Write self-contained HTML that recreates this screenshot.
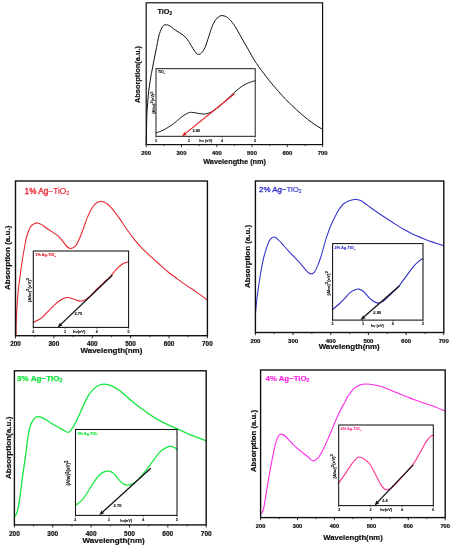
<!DOCTYPE html>
<html lang="en">
<head>
<meta charset="utf-8">
<title>UV-vis absorption spectra of TiO2 and Ag-TiO2</title>
<style>
html,body{margin:0;padding:0;background:#fff;}
body{width:453px;height:550px;overflow:hidden;}
svg{display:block;}
svg text{font-family:"Liberation Sans",Arial,Helvetica,sans-serif;}
</style>
</head>
<body>
<svg width="453" height="550" viewBox="0 0 453 550">
<rect x="0" y="0" width="453" height="550" fill="#ffffff"/>
<path d="M146.3 144.0C146.4 140.8 146.5 130.7 146.6 125.0C146.7 119.3 146.8 115.0 147.1 110.0C147.4 105.0 147.8 100.0 148.3 95.0C148.8 90.0 149.7 84.2 150.3 80.0C150.9 75.8 151.5 73.3 152.1 70.0C152.7 66.7 153.3 63.3 154.0 60.0C154.7 56.7 155.3 53.3 156.0 50.0C156.7 46.7 157.4 42.8 158.0 40.0C158.6 37.2 158.8 35.7 159.6 33.4C160.4 31.1 161.7 27.8 162.6 26.4C163.5 25.0 164.2 25.0 165.0 24.8C165.8 24.6 166.7 24.8 167.5 25.0C168.3 25.2 169.0 25.4 170.0 26.0C171.0 26.6 172.4 27.9 173.6 28.8C174.8 29.7 175.8 30.4 177.0 31.2C178.2 32.0 179.5 32.6 180.9 33.6C182.3 34.6 184.3 35.9 185.7 37.4C187.1 38.9 188.2 40.6 189.4 42.5C190.6 44.4 191.9 46.9 193.0 48.6C194.1 50.3 195.0 51.9 195.9 52.9C196.8 53.9 197.7 54.4 198.6 54.4C199.5 54.4 200.4 54.1 201.5 52.9C202.6 51.7 203.9 50.1 205.1 47.4C206.3 44.6 207.6 40.0 208.8 36.4C210.0 32.8 211.2 28.7 212.4 25.8C213.6 22.9 214.9 20.8 216.1 19.2C217.3 17.6 218.7 16.8 219.7 16.2C220.7 15.6 221.1 15.5 222.1 15.6C223.1 15.7 224.5 15.8 225.8 16.5C227.1 17.2 228.4 18.1 229.9 19.7C231.4 21.2 233.1 23.4 234.7 25.8C236.3 28.2 238.0 31.5 239.6 34.3C241.2 37.1 242.8 40.0 244.4 42.8C246.0 45.6 247.7 48.5 249.3 51.3C250.9 54.1 252.5 57.2 254.1 59.8C255.7 62.4 257.4 64.8 259.0 67.1C260.6 69.4 262.3 71.5 263.9 73.6C265.5 75.7 267.1 77.9 268.7 79.9C270.3 81.9 272.0 83.9 273.6 85.8C275.2 87.7 276.4 89.0 278.4 91.3C280.4 93.6 283.3 96.9 285.7 99.4C288.1 101.9 290.6 104.1 293.0 106.4C295.4 108.7 297.9 111.1 300.3 113.2C302.7 115.3 305.2 117.4 307.6 119.3C310.0 121.2 312.4 122.9 314.8 124.6C317.2 126.2 321.1 128.4 322.3 129.2" fill="none" stroke="#111" stroke-width="1.00" stroke-linejoin="round" stroke-linecap="round"/>
<path d="M156.1 132.9C157.4 132.4 161.0 131.3 163.9 129.8C166.8 128.3 170.8 125.7 173.6 123.7C176.4 121.7 178.7 119.3 180.9 117.6C183.1 115.9 185.1 114.4 186.9 113.5C188.7 112.6 190.0 112.3 191.8 112.3C193.6 112.3 195.9 113.0 197.9 113.3C199.9 113.6 201.9 114.1 203.9 114.0C205.9 113.9 207.8 113.6 210.0 112.6C212.2 111.6 214.5 110.1 217.3 107.9C220.1 105.7 224.1 102.1 227.0 99.4C229.9 96.7 232.4 94.1 235.0 91.9C237.6 89.7 239.9 87.6 242.3 86.0C244.7 84.4 247.4 83.3 249.6 82.4C251.8 81.5 254.3 81.0 255.2 80.7" fill="none" stroke="#111" stroke-width="0.95" stroke-linejoin="round" stroke-linecap="round"/>
<path d="M16.0 335.0C16.1 331.8 16.1 323.0 16.5 315.7C16.9 308.4 17.5 298.7 18.2 291.4C18.9 284.1 19.8 277.9 20.6 272.0C21.4 266.1 22.3 260.2 23.0 256.0C23.7 251.8 24.0 250.2 24.6 247.0C25.2 243.8 25.7 239.8 26.7 236.5C27.7 233.2 29.2 229.2 30.4 227.1C31.6 225.0 32.9 224.6 34.0 223.9C35.1 223.2 35.7 222.8 36.9 222.9C38.1 223.0 39.8 223.6 41.3 224.4C42.8 225.2 44.3 226.6 46.1 227.8C47.9 229.1 50.2 230.5 52.2 231.9C54.2 233.3 56.5 234.5 58.3 236.1C60.1 237.7 61.7 239.9 63.1 241.6C64.5 243.3 65.6 245.4 66.8 246.5C68.0 247.6 69.2 248.3 70.4 248.4C71.6 248.5 72.9 248.2 74.1 247.2C75.3 246.2 76.3 245.2 77.7 242.4C79.1 239.7 81.0 234.9 82.6 230.7C84.2 226.5 85.8 221.2 87.4 217.4C89.0 213.6 90.9 209.9 92.3 207.6C93.7 205.2 94.7 204.3 95.9 203.3C97.1 202.3 98.4 201.7 99.6 201.4C100.8 201.2 101.8 201.3 103.2 201.8C104.6 202.3 106.5 203.3 108.0 204.5C109.5 205.7 110.4 206.6 112.3 208.9C114.2 211.2 117.2 215.2 119.6 218.6C122.0 222.0 124.5 226.1 126.9 229.5C129.3 232.9 131.7 236.2 134.1 239.2C136.5 242.2 139.0 245.1 141.4 247.7C143.8 250.3 145.9 252.0 148.7 254.6C151.5 257.2 155.2 260.6 158.4 263.5C161.6 266.4 164.8 269.4 168.1 272.0C171.3 274.6 174.7 276.9 177.9 279.3C181.2 281.7 184.4 283.9 187.6 286.1C190.8 288.3 194.1 290.3 197.3 292.6C200.5 294.9 205.4 298.7 207.0 299.9" fill="none" stroke="#e8202a" stroke-width="1.05" stroke-linejoin="round" stroke-linecap="round"/>
<path d="M33.3 322.5C34.6 321.8 38.8 320.0 41.3 318.1C43.8 316.2 46.2 313.3 48.6 310.9C51.0 308.5 53.7 305.6 55.9 303.6C58.1 301.7 60.1 300.2 61.9 299.2C63.7 298.2 65.0 297.6 66.8 297.5C68.6 297.4 70.9 298.1 72.9 298.7C74.9 299.3 77.1 300.6 78.9 300.9C80.7 301.2 82.0 301.3 83.8 300.5C85.6 299.7 87.7 298.2 89.9 296.3C92.1 294.4 94.8 291.3 97.1 289.0C99.4 286.7 101.8 284.3 104.0 282.3C106.2 280.3 108.2 278.8 110.0 276.9C111.8 275.0 113.4 272.8 115.0 271.0C116.6 269.2 118.2 267.3 119.8 266.0C121.4 264.7 123.0 263.7 124.5 263.0C126.0 262.3 127.9 261.8 128.6 261.6" fill="none" stroke="#e8202a" stroke-width="1.10" stroke-linejoin="round" stroke-linecap="round"/>
<path d="M255.3 316.0C255.6 313.1 256.2 304.4 256.9 298.7C257.6 293.0 258.5 287.0 259.3 281.7C260.1 276.4 260.9 271.3 261.7 267.1C262.5 262.9 263.2 259.7 264.0 256.5C264.8 253.3 265.8 250.2 266.6 247.7C267.4 245.2 268.2 243.2 269.0 241.6C269.8 240.0 270.6 239.0 271.4 238.2C272.2 237.4 273.1 237.1 273.9 237.0C274.7 236.9 275.2 237.2 276.0 237.7C276.8 238.2 277.4 238.9 278.5 240.0C279.6 241.1 280.8 242.3 282.4 244.1C284.0 245.9 286.5 248.9 288.4 250.9C290.2 252.9 291.7 254.3 293.5 256.2C295.3 258.1 297.4 260.1 299.4 262.3C301.4 264.5 303.9 267.9 305.4 269.6C306.9 271.3 307.4 271.9 308.4 272.6C309.4 273.3 310.2 273.9 311.2 273.9C312.2 273.8 313.1 273.6 314.2 272.3C315.3 271.0 316.5 268.5 317.6 265.9C318.7 263.3 319.8 260.4 321.0 256.5C322.2 252.7 323.4 247.5 324.8 242.8C326.2 238.1 328.1 232.5 329.7 228.3C331.3 224.1 333.0 220.6 334.6 217.4C336.2 214.2 337.9 211.1 339.4 208.9C340.9 206.7 342.1 205.3 343.5 204.0C344.9 202.7 346.4 202.0 347.9 201.3C349.4 200.6 351.3 200.1 352.7 199.8C354.1 199.5 355.0 199.2 356.4 199.4C357.8 199.6 359.4 199.8 361.2 200.8C363.0 201.8 364.3 203.0 367.3 205.2C370.3 207.3 375.3 210.9 379.4 213.7C383.4 216.4 387.6 219.1 391.6 221.7C395.7 224.3 399.6 227.0 403.7 229.3C407.8 231.6 411.8 233.8 415.9 235.6C419.9 237.4 423.4 238.7 428.0 240.4C432.6 242.1 441.2 244.9 443.8 245.8" fill="none" stroke="#3232cc" stroke-width="1.05" stroke-linejoin="round" stroke-linecap="round"/>
<path d="M332.6 309.6C333.7 308.6 337.3 305.7 339.4 303.8C341.5 301.9 343.4 299.9 345.0 298.2C346.6 296.5 347.4 294.8 349.1 293.4C350.8 292.0 353.5 290.5 355.1 289.8C356.7 289.1 357.4 288.8 358.8 289.1C360.2 289.4 362.0 290.2 363.6 291.5C365.2 292.8 366.9 295.5 368.5 297.1C370.1 298.7 371.8 300.2 373.4 301.2C375.0 302.2 376.6 303.1 378.2 303.1C379.8 303.1 380.9 303.0 383.1 301.4C385.3 299.8 389.0 295.9 391.6 293.4C394.2 290.8 396.5 288.9 398.9 286.1C401.3 283.3 403.7 279.6 406.1 276.4C408.5 273.2 411.2 269.3 413.4 266.7C415.6 264.1 417.9 261.9 419.5 260.6C421.1 259.3 422.4 259.0 423.0 258.7" fill="none" stroke="#3232cc" stroke-width="1.15" stroke-linejoin="round" stroke-linecap="round"/>
<path d="M14.8 516.2C15.2 515.6 16.2 515.0 17.0 512.5C17.8 509.9 18.6 506.1 19.4 500.9C20.2 495.7 21.1 487.5 21.9 481.4C22.7 475.3 23.5 470.0 24.3 464.4C25.1 458.8 26.0 452.5 26.6 448.0C27.2 443.5 27.3 441.2 27.9 437.5C28.5 433.8 29.4 428.7 30.4 425.6C31.4 422.5 32.8 420.3 34.0 418.8C35.2 417.3 36.2 416.8 37.6 416.6C39.0 416.4 40.7 417.0 42.5 417.8C44.3 418.6 46.4 420.1 48.6 421.5C50.8 422.9 53.5 424.6 55.9 426.0C58.3 427.4 61.1 428.8 63.1 429.9C65.1 431.0 66.6 432.5 68.0 432.4C69.4 432.3 70.2 431.1 71.6 429.2C73.0 427.2 74.7 424.3 76.5 420.7C78.3 417.1 80.6 411.6 82.6 407.4C84.6 403.1 86.6 398.4 88.6 395.2C90.6 391.9 92.9 389.6 94.7 387.9C96.5 386.2 98.0 385.6 99.6 385.0C101.2 384.4 102.9 384.2 104.4 384.2C105.9 384.2 107.2 384.5 108.5 384.8C109.8 385.1 110.5 385.3 112.3 386.2C114.1 387.1 116.8 388.3 119.6 390.4C122.4 392.5 125.7 395.9 129.3 398.9C132.9 401.9 137.4 405.6 141.4 408.6C145.4 411.6 149.6 414.6 153.6 417.1C157.6 419.6 161.6 421.6 165.7 423.6C169.8 425.6 173.8 427.4 177.9 429.2C182.0 431.0 185.3 432.7 190.0 434.6C194.7 436.5 203.2 439.6 205.8 440.6" fill="none" stroke="#14e63c" stroke-width="1.30" stroke-linejoin="round" stroke-linecap="round"/>
<path d="M75.5 505.3C76.6 504.4 80.0 502.5 82.3 499.8C84.6 497.1 87.2 492.7 89.6 489.0C92.0 485.3 94.7 480.6 96.9 477.8C99.1 475.0 100.9 473.5 102.9 472.4C104.9 471.3 107.2 470.9 109.0 471.1C110.8 471.3 112.3 472.2 113.9 473.6C115.5 475.0 117.1 477.9 118.7 479.6C120.3 481.3 122.2 483.1 123.6 484.0C125.0 484.9 125.8 485.2 127.2 485.2C128.6 485.2 130.3 484.9 132.1 484.0C133.9 483.1 135.9 481.8 138.1 479.6C140.3 477.5 143.0 474.1 145.4 471.1C147.8 468.1 150.3 464.6 152.7 461.4C155.1 458.2 157.8 454.2 160.0 451.9C162.2 449.6 164.3 448.5 166.1 447.6C167.9 446.7 169.5 446.4 170.9 446.4C172.3 446.4 173.6 447.1 174.6 447.6C175.6 448.1 176.6 449.0 177.0 449.3" fill="none" stroke="#14e63c" stroke-width="1.25" stroke-linejoin="round" stroke-linecap="round"/>
<path d="M261.2 513.7C261.6 513.0 262.7 511.9 263.4 509.4C264.1 506.8 264.5 503.9 265.4 498.4C266.3 492.9 267.8 483.5 269.0 476.6C270.2 469.7 271.7 462.0 272.6 457.1C273.5 452.2 274.0 450.1 274.6 447.5C275.2 444.9 275.6 443.3 276.3 441.4C277.0 439.4 277.9 437.0 278.7 435.8C279.5 434.6 280.1 434.1 281.1 434.1C282.1 434.1 283.4 434.7 284.8 435.8C286.2 436.9 288.0 439.1 289.6 440.8C291.2 442.5 292.7 444.1 294.5 445.8C296.3 447.5 298.4 449.3 300.6 451.1C302.8 452.9 305.9 455.1 307.9 456.7C309.9 458.3 311.1 460.5 312.7 460.8C314.3 461.1 316.0 460.0 317.6 458.4C319.2 456.8 320.6 454.4 322.4 451.0C324.2 447.6 326.5 442.3 328.5 437.7C330.5 433.1 332.6 427.8 334.6 423.1C336.6 418.5 338.9 413.3 340.6 409.8C342.3 406.3 343.8 404.2 345.0 402.0C346.2 399.8 346.4 398.6 347.9 396.4C349.4 394.2 351.9 390.6 353.9 388.7C355.9 386.8 358.0 385.8 360.0 385.0C362.0 384.2 363.7 384.0 366.1 384.0C368.5 384.0 371.6 384.4 374.6 385.0C377.6 385.6 380.7 386.1 384.3 387.4C387.9 388.7 392.3 390.9 396.4 392.6C400.4 394.3 404.6 396.0 408.6 397.6C412.7 399.2 416.7 400.6 420.7 402.0C424.7 403.4 428.8 404.4 432.8 405.9C436.9 407.4 443.0 410.1 445.0 411.0" fill="none" stroke="#ff28e6" stroke-width="1.10" stroke-linejoin="round" stroke-linecap="round"/>
<path d="M338.7 483.0C339.7 481.6 342.5 477.8 344.7 474.6C346.9 471.4 350.0 466.4 352.0 463.7C354.0 460.9 355.7 459.2 356.9 458.1C358.1 457.0 358.1 457.1 359.3 457.2C360.5 457.3 362.3 457.7 364.1 458.9C365.9 460.1 368.2 461.7 370.2 464.5C372.2 467.3 374.5 472.5 376.3 475.9C378.1 479.3 379.7 482.9 381.1 485.1C382.5 487.3 383.8 488.4 384.8 489.2C385.8 490.0 386.0 490.0 387.2 489.7C388.4 489.4 389.9 489.4 392.1 487.5C394.3 485.6 397.2 482.1 400.6 478.3C404.0 474.5 409.5 469.1 412.7 464.9C415.9 460.6 417.8 456.6 420.0 452.8C422.2 449.0 424.2 444.6 426.0 441.9C427.8 439.1 429.7 437.4 430.9 436.3C432.1 435.2 432.9 435.5 433.3 435.3" fill="none" stroke="#ff3c96" stroke-width="1.15" stroke-linejoin="round" stroke-linecap="round"/>
<rect x="146.2" y="2.8" width="176.4" height="141.8" fill="none" stroke="#111" stroke-width="1.20"/>
<rect x="156.0" y="68.7" width="99.2" height="67.6" fill="none" stroke="#111" stroke-width="0.95"/>
<rect x="15.5" y="181.0" width="191.9" height="154.7" fill="none" stroke="#111" stroke-width="1.40"/>
<rect x="33.3" y="251.0" width="95.3" height="76.4" fill="none" stroke="#111" stroke-width="1.05"/>
<rect x="255.4" y="181.0" width="188.4" height="151.5" fill="none" stroke="#111" stroke-width="1.40"/>
<rect x="332.6" y="243.6" width="90.4" height="76.5" fill="none" stroke="#111" stroke-width="1.05"/>
<rect x="14.4" y="370.8" width="191.8" height="154.1" fill="none" stroke="#111" stroke-width="1.40"/>
<rect x="75.5" y="429.5" width="101.5" height="85.9" fill="none" stroke="#111" stroke-width="1.05"/>
<rect x="260.6" y="370.0" width="184.6" height="147.6" fill="none" stroke="#111" stroke-width="1.40"/>
<rect x="338.7" y="425.0" width="94.6" height="80.6" fill="none" stroke="#111" stroke-width="1.05"/>
<line x1="146.2" y1="144.6" x2="146.2" y2="147.2" stroke="#111" stroke-width="0.80"/>
<line x1="163.8" y1="144.6" x2="163.8" y2="146.2" stroke="#111" stroke-width="0.64"/>
<line x1="181.5" y1="144.6" x2="181.5" y2="147.2" stroke="#111" stroke-width="0.80"/>
<line x1="199.1" y1="144.6" x2="199.1" y2="146.2" stroke="#111" stroke-width="0.64"/>
<line x1="216.8" y1="144.6" x2="216.8" y2="147.2" stroke="#111" stroke-width="0.80"/>
<line x1="234.4" y1="144.6" x2="234.4" y2="146.2" stroke="#111" stroke-width="0.64"/>
<line x1="252.0" y1="144.6" x2="252.0" y2="147.2" stroke="#111" stroke-width="0.80"/>
<line x1="269.7" y1="144.6" x2="269.7" y2="146.2" stroke="#111" stroke-width="0.64"/>
<line x1="287.3" y1="144.6" x2="287.3" y2="147.2" stroke="#111" stroke-width="0.80"/>
<line x1="305.0" y1="144.6" x2="305.0" y2="146.2" stroke="#111" stroke-width="0.64"/>
<line x1="322.6" y1="144.6" x2="322.6" y2="147.2" stroke="#111" stroke-width="0.80"/>
<line x1="156.0" y1="136.3" x2="156.0" y2="137.8" stroke="#111" stroke-width="0.60"/>
<line x1="189.1" y1="136.3" x2="189.1" y2="137.8" stroke="#111" stroke-width="0.60"/>
<line x1="222.1" y1="136.3" x2="222.1" y2="137.8" stroke="#111" stroke-width="0.60"/>
<line x1="255.2" y1="136.3" x2="255.2" y2="137.8" stroke="#111" stroke-width="0.60"/>
<line x1="234.5" y1="93.8" x2="185.6" y2="133.4" stroke="#e8141c" stroke-width="1.10"/>
<polygon points="182.0,136.3 184.4,132.0 186.7,134.8" fill="#e8141c"/>
<text x="196.2" y="131.9" font-size="3.90" fill="#111" font-weight="bold" text-anchor="middle" stroke="#111" stroke-width="0.12">2.80</text>
<text x="158.0" y="73.4" font-size="3.50" fill="#111" font-weight="bold" text-anchor="start" stroke="#111" stroke-width="0.12">TiO<tspan font-size="65%" dy="0.25em">2</tspan></text>
<text x="156.0" y="141.6" font-size="3.70" fill="#111" font-weight="bold" text-anchor="middle" stroke="#111" stroke-width="0.12">2</text>
<text x="188.9" y="141.6" font-size="3.70" fill="#111" font-weight="bold" text-anchor="middle" stroke="#111" stroke-width="0.12">3</text>
<text x="222.0" y="141.6" font-size="3.70" fill="#111" font-weight="bold" text-anchor="middle" stroke="#111" stroke-width="0.12">4</text>
<text x="255.0" y="141.6" font-size="3.70" fill="#111" font-weight="bold" text-anchor="middle" stroke="#111" stroke-width="0.12">5</text>
<text x="205.8" y="141.7" font-size="3.90" fill="#111" font-weight="bold" text-anchor="middle" stroke="#111" stroke-width="0.12">hv (eV)</text>
<text x="155.0" y="102.7" font-size="4.00" fill="#111" font-weight="bold" text-anchor="middle" transform="rotate(-90 155.0 102.7)" stroke="#111" stroke-width="0.12">(Ahv)<tspan font-size="65%%" dy="-0.4em">2</tspan><tspan dy="0.26em">(eV)</tspan><tspan font-size="65%%" dy="-0.4em">2</tspan></text>
<text x="157.4" y="13.7" font-size="7.30" fill="#111" font-weight="bold" text-anchor="start" stroke="#111" stroke-width="0.2">TiO<tspan font-size="65%" dy="0.25em">2</tspan></text>
<text x="146.2" y="154.5" font-size="5.90" fill="#111" font-weight="bold" text-anchor="middle" stroke="#111" stroke-width="0.2">200</text>
<text x="181.5" y="154.5" font-size="5.90" fill="#111" font-weight="bold" text-anchor="middle" stroke="#111" stroke-width="0.2">300</text>
<text x="216.8" y="154.5" font-size="5.90" fill="#111" font-weight="bold" text-anchor="middle" stroke="#111" stroke-width="0.2">400</text>
<text x="252.0" y="154.5" font-size="5.90" fill="#111" font-weight="bold" text-anchor="middle" stroke="#111" stroke-width="0.2">500</text>
<text x="287.3" y="154.5" font-size="5.90" fill="#111" font-weight="bold" text-anchor="middle" stroke="#111" stroke-width="0.2">600</text>
<text x="322.6" y="154.5" font-size="5.90" fill="#111" font-weight="bold" text-anchor="middle" stroke="#111" stroke-width="0.2">700</text>
<text x="234.6" y="164.0" font-size="7.33" fill="#111" font-weight="bold" text-anchor="middle" stroke="#111" stroke-width="0.2">Wavelengthe (nm)</text>
<text x="140.0" y="74.5" font-size="7.40" fill="#111" font-weight="bold" text-anchor="middle" transform="rotate(-90 140.0 74.5)" stroke="#111" stroke-width="0.2">Absorption(a.u.)</text>
<line x1="15.5" y1="335.7" x2="15.5" y2="338.3" stroke="#111" stroke-width="0.90"/>
<line x1="34.7" y1="335.7" x2="34.7" y2="337.3" stroke="#111" stroke-width="0.72"/>
<line x1="53.9" y1="335.7" x2="53.9" y2="338.3" stroke="#111" stroke-width="0.90"/>
<line x1="73.1" y1="335.7" x2="73.1" y2="337.3" stroke="#111" stroke-width="0.72"/>
<line x1="92.3" y1="335.7" x2="92.3" y2="338.3" stroke="#111" stroke-width="0.90"/>
<line x1="111.5" y1="335.7" x2="111.5" y2="337.3" stroke="#111" stroke-width="0.72"/>
<line x1="130.6" y1="335.7" x2="130.6" y2="338.3" stroke="#111" stroke-width="0.90"/>
<line x1="149.8" y1="335.7" x2="149.8" y2="337.3" stroke="#111" stroke-width="0.72"/>
<line x1="169.0" y1="335.7" x2="169.0" y2="338.3" stroke="#111" stroke-width="0.90"/>
<line x1="188.2" y1="335.7" x2="188.2" y2="337.3" stroke="#111" stroke-width="0.72"/>
<line x1="207.4" y1="335.7" x2="207.4" y2="338.3" stroke="#111" stroke-width="0.90"/>
<line x1="33.3" y1="327.4" x2="33.3" y2="328.9" stroke="#111" stroke-width="0.60"/>
<line x1="65.1" y1="327.4" x2="65.1" y2="328.9" stroke="#111" stroke-width="0.60"/>
<line x1="96.8" y1="327.4" x2="96.8" y2="328.9" stroke="#111" stroke-width="0.60"/>
<line x1="128.6" y1="327.4" x2="128.6" y2="328.9" stroke="#111" stroke-width="0.60"/>
<line x1="112.3" y1="275.2" x2="61.1" y2="324.1" stroke="#111" stroke-width="1.30"/>
<polygon points="57.6,327.4 59.8,322.7 62.4,325.5" fill="#111"/>
<text x="78.4" y="314.7" font-size="4.00" fill="#111" font-weight="bold" text-anchor="middle" stroke="#111" stroke-width="0.12">2.75</text>
<text x="35.3" y="256.4" font-size="3.85" fill="#e8202a" font-weight="bold" text-anchor="start" stroke="#e8202a" stroke-width="0.12">1% Ag-TiO<tspan font-size="65%" dy="0.25em">2</tspan></text>
<text x="33.3" y="332.9" font-size="3.60" fill="#111" font-weight="bold" text-anchor="middle" stroke="#111" stroke-width="0.12">2</text>
<text x="65.0" y="332.9" font-size="3.60" fill="#111" font-weight="bold" text-anchor="middle" stroke="#111" stroke-width="0.12">3</text>
<text x="96.8" y="332.9" font-size="3.60" fill="#111" font-weight="bold" text-anchor="middle" stroke="#111" stroke-width="0.12">4</text>
<text x="128.6" y="332.9" font-size="3.60" fill="#111" font-weight="bold" text-anchor="middle" stroke="#111" stroke-width="0.12">5</text>
<text x="79.2" y="333.0" font-size="4.00" fill="#111" font-weight="bold" text-anchor="middle" stroke="#111" stroke-width="0.12">hv(eV)</text>
<text x="31.2" y="289.9" font-size="4.40" fill="#111" font-weight="bold" text-anchor="middle" transform="rotate(-90 31.2 289.9)" stroke="#111" stroke-width="0.12">(Ahv)<tspan font-size="65%%" dy="-0.4em">2</tspan><tspan dy="0.26em">(eV)</tspan><tspan font-size="65%%" dy="-0.4em">2</tspan></text>
<text x="24.6" y="194.1" font-size="8.25" fill="#e8202a" stroke="#e8202a" stroke-width="0.32" font-weight="normal">1% Ag<tspan stroke-width="0.15">−TiO<tspan font-size="65%" dy="0.25em">2</tspan></tspan></text>
<text x="15.5" y="345.7" font-size="6.40" fill="#111" font-weight="bold" text-anchor="middle" stroke="#111" stroke-width="0.2">200</text>
<text x="53.9" y="345.7" font-size="6.40" fill="#111" font-weight="bold" text-anchor="middle" stroke="#111" stroke-width="0.2">300</text>
<text x="92.3" y="345.7" font-size="6.40" fill="#111" font-weight="bold" text-anchor="middle" stroke="#111" stroke-width="0.2">400</text>
<text x="130.6" y="345.7" font-size="6.40" fill="#111" font-weight="bold" text-anchor="middle" stroke="#111" stroke-width="0.2">500</text>
<text x="169.0" y="345.7" font-size="6.40" fill="#111" font-weight="bold" text-anchor="middle" stroke="#111" stroke-width="0.2">600</text>
<text x="207.4" y="345.7" font-size="6.40" fill="#111" font-weight="bold" text-anchor="middle" stroke="#111" stroke-width="0.2">700</text>
<text x="111.4" y="353.4" font-size="8.00" fill="#111" font-weight="bold" text-anchor="middle" stroke="#111" stroke-width="0.2">Wavelength(nm)</text>
<text x="10.4" y="257.8" font-size="8.05" fill="#111" font-weight="bold" text-anchor="middle" transform="rotate(-90 10.4 257.8)" stroke="#111" stroke-width="0.2">Absorption (a.u.)</text>
<line x1="255.4" y1="332.5" x2="255.4" y2="335.1" stroke="#111" stroke-width="0.90"/>
<line x1="274.2" y1="332.5" x2="274.2" y2="334.1" stroke="#111" stroke-width="0.72"/>
<line x1="293.1" y1="332.5" x2="293.1" y2="335.1" stroke="#111" stroke-width="0.90"/>
<line x1="311.9" y1="332.5" x2="311.9" y2="334.1" stroke="#111" stroke-width="0.72"/>
<line x1="330.8" y1="332.5" x2="330.8" y2="335.1" stroke="#111" stroke-width="0.90"/>
<line x1="349.6" y1="332.5" x2="349.6" y2="334.1" stroke="#111" stroke-width="0.72"/>
<line x1="368.4" y1="332.5" x2="368.4" y2="335.1" stroke="#111" stroke-width="0.90"/>
<line x1="387.3" y1="332.5" x2="387.3" y2="334.1" stroke="#111" stroke-width="0.72"/>
<line x1="406.1" y1="332.5" x2="406.1" y2="335.1" stroke="#111" stroke-width="0.90"/>
<line x1="425.0" y1="332.5" x2="425.0" y2="334.1" stroke="#111" stroke-width="0.72"/>
<line x1="443.8" y1="332.5" x2="443.8" y2="335.1" stroke="#111" stroke-width="0.90"/>
<line x1="332.6" y1="320.1" x2="332.6" y2="321.6" stroke="#111" stroke-width="0.60"/>
<line x1="362.7" y1="320.1" x2="362.7" y2="321.6" stroke="#111" stroke-width="0.60"/>
<line x1="392.9" y1="320.1" x2="392.9" y2="321.6" stroke="#111" stroke-width="0.60"/>
<line x1="423.0" y1="320.1" x2="423.0" y2="321.6" stroke="#111" stroke-width="0.60"/>
<line x1="399.3" y1="286.1" x2="364.1" y2="316.8" stroke="#111" stroke-width="1.30"/>
<polygon points="360.5,320.0 362.9,315.4 365.4,318.3" fill="#111"/>
<text x="377.2" y="313.5" font-size="4.00" fill="#111" font-weight="bold" text-anchor="middle" stroke="#111" stroke-width="0.12">2.90</text>
<text x="334.6" y="248.9" font-size="3.85" fill="#3232cc" font-weight="bold" text-anchor="start" stroke="#3232cc" stroke-width="0.12">2% Ag-TiO<tspan font-size="65%" dy="0.25em">2</tspan></text>
<text x="332.6" y="325.3" font-size="3.60" fill="#111" font-weight="bold" text-anchor="middle" stroke="#111" stroke-width="0.12">2</text>
<text x="362.9" y="325.3" font-size="3.60" fill="#111" font-weight="bold" text-anchor="middle" stroke="#111" stroke-width="0.12">3</text>
<text x="392.8" y="325.3" font-size="3.60" fill="#111" font-weight="bold" text-anchor="middle" stroke="#111" stroke-width="0.12">4</text>
<text x="423.0" y="325.3" font-size="3.60" fill="#111" font-weight="bold" text-anchor="middle" stroke="#111" stroke-width="0.12">5</text>
<text x="377.4" y="326.5" font-size="3.90" fill="#111" font-weight="bold" text-anchor="middle" stroke="#111" stroke-width="0.12">hv (eV)</text>
<text x="330.2" y="283.3" font-size="4.40" fill="#111" font-weight="bold" text-anchor="middle" transform="rotate(-90 330.2 283.3)" stroke="#111" stroke-width="0.12">(Ahv)<tspan font-size="65%%" dy="-0.4em">2</tspan><tspan dy="0.26em">(eV)</tspan><tspan font-size="65%%" dy="-0.4em">2</tspan></text>
<text x="259.0" y="191.6" font-size="7.9" fill="#3232cc" stroke="#3232cc" stroke-width="0.32" font-weight="normal">2% Ag−<tspan stroke-width="0.15">TiO<tspan font-size="65%" dy="0.25em">2</tspan></tspan></text>
<text x="255.4" y="342.5" font-size="6.00" fill="#111" font-weight="bold" text-anchor="middle" stroke="#111" stroke-width="0.2">200</text>
<text x="293.1" y="342.5" font-size="6.00" fill="#111" font-weight="bold" text-anchor="middle" stroke="#111" stroke-width="0.2">300</text>
<text x="330.8" y="342.5" font-size="6.00" fill="#111" font-weight="bold" text-anchor="middle" stroke="#111" stroke-width="0.2">400</text>
<text x="368.4" y="342.5" font-size="6.00" fill="#111" font-weight="bold" text-anchor="middle" stroke="#111" stroke-width="0.2">500</text>
<text x="406.1" y="342.5" font-size="6.00" fill="#111" font-weight="bold" text-anchor="middle" stroke="#111" stroke-width="0.2">600</text>
<text x="443.8" y="342.5" font-size="6.00" fill="#111" font-weight="bold" text-anchor="middle" stroke="#111" stroke-width="0.2">700</text>
<text x="349.2" y="349.4" font-size="7.90" fill="#111" font-weight="bold" text-anchor="middle" stroke="#111" stroke-width="0.2">Wavelength(nm)</text>
<text x="249.8" y="256.5" font-size="7.90" fill="#111" font-weight="bold" text-anchor="middle" transform="rotate(-90 249.8 256.5)" stroke="#111" stroke-width="0.2">Absorption (a.u.)</text>
<line x1="14.4" y1="524.9" x2="14.4" y2="527.5" stroke="#111" stroke-width="0.90"/>
<line x1="33.6" y1="524.9" x2="33.6" y2="526.5" stroke="#111" stroke-width="0.72"/>
<line x1="52.8" y1="524.9" x2="52.8" y2="527.5" stroke="#111" stroke-width="0.90"/>
<line x1="71.9" y1="524.9" x2="71.9" y2="526.5" stroke="#111" stroke-width="0.72"/>
<line x1="91.1" y1="524.9" x2="91.1" y2="527.5" stroke="#111" stroke-width="0.90"/>
<line x1="110.3" y1="524.9" x2="110.3" y2="526.5" stroke="#111" stroke-width="0.72"/>
<line x1="129.5" y1="524.9" x2="129.5" y2="527.5" stroke="#111" stroke-width="0.90"/>
<line x1="148.7" y1="524.9" x2="148.7" y2="526.5" stroke="#111" stroke-width="0.72"/>
<line x1="167.8" y1="524.9" x2="167.8" y2="527.5" stroke="#111" stroke-width="0.90"/>
<line x1="187.0" y1="524.9" x2="187.0" y2="526.5" stroke="#111" stroke-width="0.72"/>
<line x1="206.2" y1="524.9" x2="206.2" y2="527.5" stroke="#111" stroke-width="0.90"/>
<line x1="75.5" y1="515.4" x2="75.5" y2="516.9" stroke="#111" stroke-width="0.60"/>
<line x1="109.3" y1="515.4" x2="109.3" y2="516.9" stroke="#111" stroke-width="0.60"/>
<line x1="143.2" y1="515.4" x2="143.2" y2="516.9" stroke="#111" stroke-width="0.60"/>
<line x1="177.0" y1="515.4" x2="177.0" y2="516.9" stroke="#111" stroke-width="0.60"/>
<line x1="150.8" y1="468.2" x2="102.9" y2="511.8" stroke="#111" stroke-width="1.30"/>
<polygon points="99.3,515.0 101.6,510.4 104.1,513.2" fill="#111"/>
<text x="117.5" y="507.3" font-size="4.00" fill="#111" font-weight="bold" text-anchor="middle" stroke="#111" stroke-width="0.12">2.70</text>
<text x="77.4" y="434.8" font-size="3.85" fill="#14e63c" font-weight="bold" text-anchor="start" stroke="#14e63c" stroke-width="0.12">3% Ag-TiO<tspan font-size="65%" dy="0.25em">2</tspan></text>
<text x="75.2" y="521.3" font-size="3.60" fill="#111" font-weight="bold" text-anchor="middle" stroke="#111" stroke-width="0.12">2</text>
<text x="108.8" y="521.3" font-size="3.60" fill="#111" font-weight="bold" text-anchor="middle" stroke="#111" stroke-width="0.12">3</text>
<text x="143.2" y="521.3" font-size="3.60" fill="#111" font-weight="bold" text-anchor="middle" stroke="#111" stroke-width="0.12">4</text>
<text x="177.0" y="521.3" font-size="3.60" fill="#111" font-weight="bold" text-anchor="middle" stroke="#111" stroke-width="0.12">5</text>
<text x="126.2" y="521.8" font-size="3.90" fill="#111" font-weight="bold" text-anchor="middle" stroke="#111" stroke-width="0.12">hv(eV)</text>
<text x="70.4" y="472.9" font-size="4.50" fill="#111" font-weight="bold" text-anchor="middle" transform="rotate(-90 70.4 472.9)" stroke="#111" stroke-width="0.12">(Ahv)<tspan font-size="65%%" dy="-0.4em">2</tspan><tspan dy="0.26em">(eV)</tspan><tspan font-size="65%%" dy="-0.4em">2</tspan></text>
<text x="17.0" y="380.9" font-size="8.10" fill="#14e63c" font-weight="bold" text-anchor="start" stroke="#14e63c" stroke-width="0.25">3% Ag−TiO<tspan font-size="65%" dy="0.25em">2</tspan></text>
<text x="14.4" y="535.7" font-size="6.50" fill="#111" font-weight="bold" text-anchor="middle" stroke="#111" stroke-width="0.2">200</text>
<text x="52.8" y="535.7" font-size="6.50" fill="#111" font-weight="bold" text-anchor="middle" stroke="#111" stroke-width="0.2">300</text>
<text x="91.1" y="535.7" font-size="6.50" fill="#111" font-weight="bold" text-anchor="middle" stroke="#111" stroke-width="0.2">400</text>
<text x="129.5" y="535.7" font-size="6.50" fill="#111" font-weight="bold" text-anchor="middle" stroke="#111" stroke-width="0.2">500</text>
<text x="167.8" y="535.7" font-size="6.50" fill="#111" font-weight="bold" text-anchor="middle" stroke="#111" stroke-width="0.2">600</text>
<text x="206.2" y="535.7" font-size="6.50" fill="#111" font-weight="bold" text-anchor="middle" stroke="#111" stroke-width="0.2">700</text>
<text x="113.6" y="543.2" font-size="8.05" fill="#111" font-weight="bold" text-anchor="middle" stroke="#111" stroke-width="0.2">Wavelength(nm)</text>
<text x="11.0" y="447.8" font-size="8.10" fill="#111" font-weight="bold" text-anchor="middle" transform="rotate(-90 11.0 447.8)" stroke="#111" stroke-width="0.2">Absorption(a.u.)</text>
<line x1="260.6" y1="517.6" x2="260.6" y2="520.2" stroke="#111" stroke-width="0.90"/>
<line x1="279.1" y1="517.6" x2="279.1" y2="519.2" stroke="#111" stroke-width="0.72"/>
<line x1="297.5" y1="517.6" x2="297.5" y2="520.2" stroke="#111" stroke-width="0.90"/>
<line x1="316.0" y1="517.6" x2="316.0" y2="519.2" stroke="#111" stroke-width="0.72"/>
<line x1="334.4" y1="517.6" x2="334.4" y2="520.2" stroke="#111" stroke-width="0.90"/>
<line x1="352.9" y1="517.6" x2="352.9" y2="519.2" stroke="#111" stroke-width="0.72"/>
<line x1="371.4" y1="517.6" x2="371.4" y2="520.2" stroke="#111" stroke-width="0.90"/>
<line x1="389.8" y1="517.6" x2="389.8" y2="519.2" stroke="#111" stroke-width="0.72"/>
<line x1="408.3" y1="517.6" x2="408.3" y2="520.2" stroke="#111" stroke-width="0.90"/>
<line x1="426.7" y1="517.6" x2="426.7" y2="519.2" stroke="#111" stroke-width="0.72"/>
<line x1="445.2" y1="517.6" x2="445.2" y2="520.2" stroke="#111" stroke-width="0.90"/>
<line x1="338.7" y1="505.6" x2="338.7" y2="507.1" stroke="#111" stroke-width="0.60"/>
<line x1="370.2" y1="505.6" x2="370.2" y2="507.1" stroke="#111" stroke-width="0.60"/>
<line x1="401.8" y1="505.6" x2="401.8" y2="507.1" stroke="#111" stroke-width="0.60"/>
<line x1="433.3" y1="505.6" x2="433.3" y2="507.1" stroke="#111" stroke-width="0.60"/>
<line x1="413.2" y1="464.9" x2="377.9" y2="501.9" stroke="#111" stroke-width="1.30"/>
<polygon points="374.6,505.4 376.5,500.6 379.3,503.2" fill="#111"/>
<text x="385.0" y="502.0" font-size="3.80" fill="#111" font-weight="bold" text-anchor="middle" stroke="#111" stroke-width="0.12">2.4</text>
<text x="340.6" y="430.4" font-size="3.85" fill="#ff3c96" font-weight="bold" text-anchor="start" stroke="#ff3c96" stroke-width="0.12">4% Ag-TiO<tspan font-size="65%" dy="0.25em">2</tspan></text>
<text x="339.2" y="510.8" font-size="3.60" fill="#111" font-weight="bold" text-anchor="middle" stroke="#111" stroke-width="0.12">2</text>
<text x="370.4" y="510.8" font-size="3.60" fill="#111" font-weight="bold" text-anchor="middle" stroke="#111" stroke-width="0.12">2</text>
<text x="401.9" y="510.8" font-size="3.60" fill="#111" font-weight="bold" text-anchor="middle" stroke="#111" stroke-width="0.12">4</text>
<text x="433.3" y="510.8" font-size="3.60" fill="#111" font-weight="bold" text-anchor="middle" stroke="#111" stroke-width="0.12">6</text>
<text x="386.1" y="510.9" font-size="3.90" fill="#111" font-weight="bold" text-anchor="middle" stroke="#111" stroke-width="0.12">hv(eV)</text>
<text x="335.8" y="466.2" font-size="4.40" fill="#111" font-weight="bold" text-anchor="middle" transform="rotate(-90 335.8 466.2)" stroke="#111" stroke-width="0.12">(Ahv)<tspan font-size="65%%" dy="-0.4em">2</tspan><tspan dy="0.26em">(eV)</tspan><tspan font-size="65%%" dy="-0.4em">2</tspan></text>
<text x="265.6" y="381.0" font-size="7.80" fill="#ff28e6" font-weight="bold" text-anchor="start" stroke="#ff28e6" stroke-width="0.2">4% Ag−TiO<tspan font-size="65%" dy="0.25em">2</tspan></text>
<text x="260.6" y="527.5" font-size="5.70" fill="#111" font-weight="bold" text-anchor="middle" stroke="#111" stroke-width="0.2">200</text>
<text x="297.5" y="527.5" font-size="5.70" fill="#111" font-weight="bold" text-anchor="middle" stroke="#111" stroke-width="0.2">300</text>
<text x="334.4" y="527.5" font-size="5.70" fill="#111" font-weight="bold" text-anchor="middle" stroke="#111" stroke-width="0.2">400</text>
<text x="371.4" y="527.5" font-size="5.70" fill="#111" font-weight="bold" text-anchor="middle" stroke="#111" stroke-width="0.2">500</text>
<text x="408.3" y="527.5" font-size="5.70" fill="#111" font-weight="bold" text-anchor="middle" stroke="#111" stroke-width="0.2">600</text>
<text x="445.2" y="527.5" font-size="5.70" fill="#111" font-weight="bold" text-anchor="middle" stroke="#111" stroke-width="0.2">700</text>
<text x="353.0" y="540.0" font-size="7.70" fill="#111" font-weight="bold" text-anchor="middle" stroke="#111" stroke-width="0.2">Wavelength(nm)</text>
<text x="256.4" y="441.0" font-size="7.75" fill="#111" font-weight="bold" text-anchor="middle" transform="rotate(-90 256.4 441.0)" stroke="#111" stroke-width="0.2">Absorption (a.u.)</text>
</svg>
</body>
</html>
